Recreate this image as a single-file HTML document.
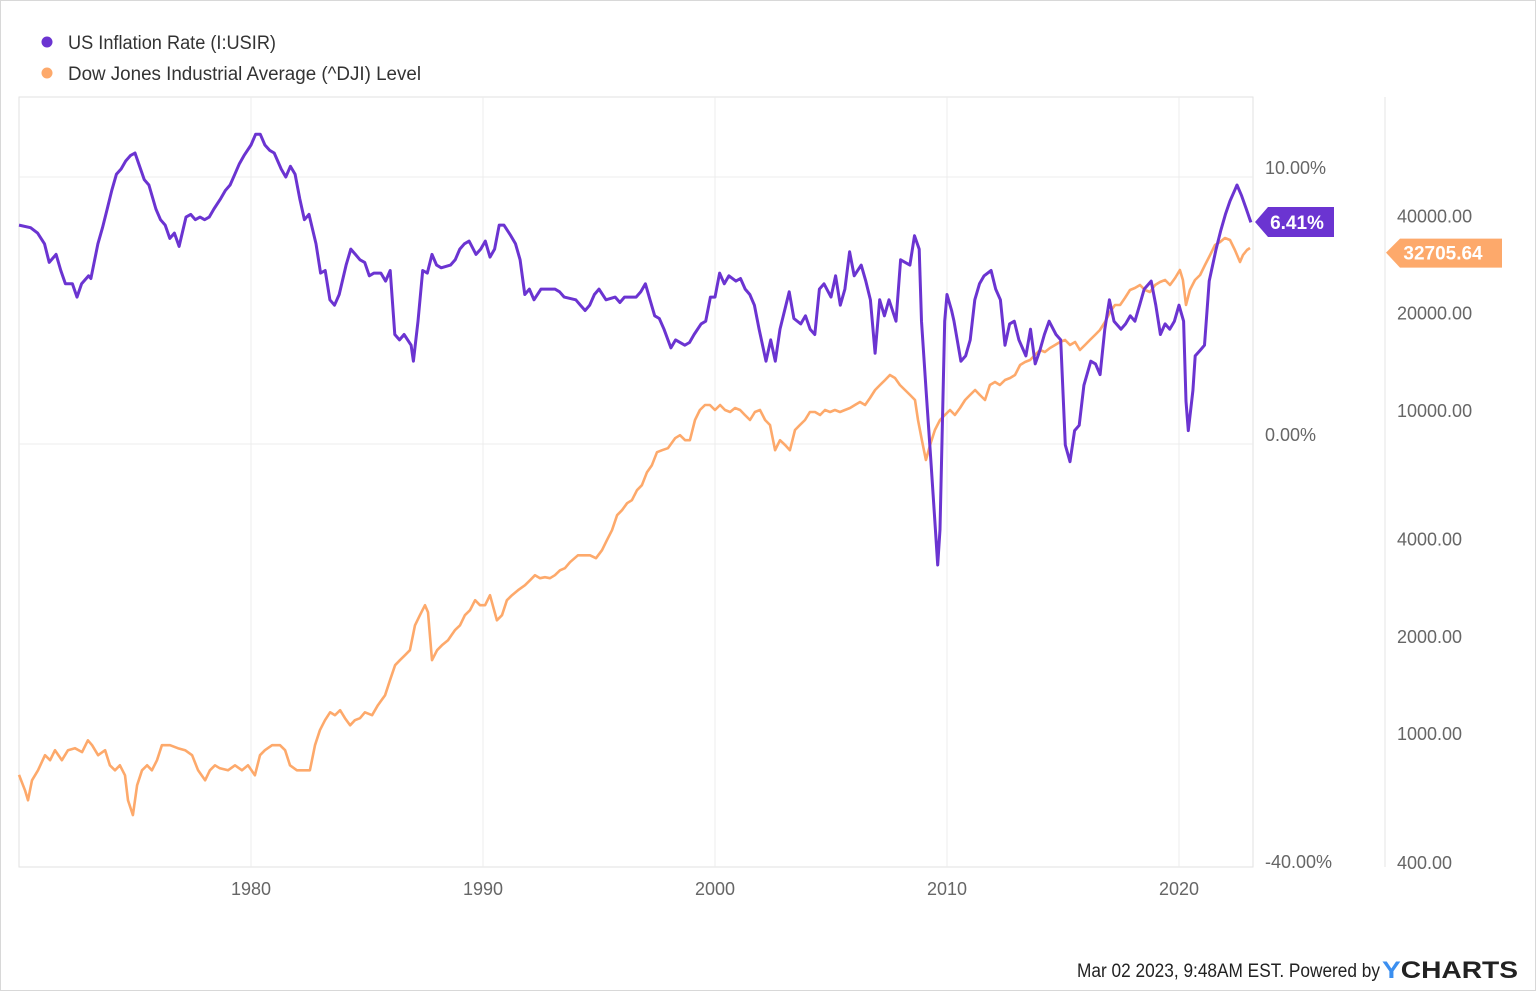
<!DOCTYPE html>
<html><head><meta charset="utf-8"><style>
html,body{margin:0;padding:0;background:#fff;}
body{width:1536px;height:991px;overflow:hidden;position:relative;font-family:"Liberation Sans",sans-serif;}
#frame{position:absolute;left:0;top:0;width:1534px;height:989px;border:1px solid #d8d8d8;}
svg{position:absolute;left:0;top:0;}
.lg{font-size:19px;fill:#333;}
.ax{font-size:18px;fill:#666;}
</style></head><body>
<div id="frame"></div>
<svg id="chart" width="1536" height="991"></svg>
<script>
// ---- data ----
const inflDates=[1970.0,1970.5,1970.8,1971.1,1971.3,1971.6,1971.8,1972.0,1972.3,1972.5,1972.7,1973.0,1973.1,1973.4,1973.6,1973.8,1974.0,1974.2,1974.4,1974.6,1974.8,1975.0,1975.2,1975.4,1975.6,1975.9,1976.1,1976.3,1976.5,1976.7,1976.9,1977.2,1977.4,1977.6,1977.8,1978.0,1978.2,1978.4,1978.7,1978.9,1979.1,1979.3,1979.5,1979.7,1980.0,1980.2,1980.4,1980.6,1980.8,1981.0,1981.3,1981.5,1981.7,1981.9,1982.1,1982.3,1982.5,1982.8,1983.0,1983.2,1983.4,1983.6,1983.8,1984.1,1984.3,1984.5,1984.7,1984.9,1985.1,1985.3,1985.6,1985.8,1986.0,1986.2,1986.4,1986.6,1986.9,1987.0,1987.2,1987.4,1987.6,1987.8,1988.0,1988.2,1988.6,1988.8,1989.0,1989.2,1989.4,1989.7,1989.9,1990.1,1990.3,1990.5,1990.7,1990.9,1991.2,1991.4,1991.6,1991.8,1992.0,1992.2,1992.5,1992.9,1993.1,1993.3,1993.5,1994.0,1994.2,1994.4,1994.6,1994.8,1995.0,1995.3,1995.7,1995.9,1996.1,1996.6,1996.8,1997.0,1997.2,1997.4,1997.6,1997.8,1998.1,1998.3,1998.7,1998.9,1999.1,1999.4,1999.6,1999.8,2000.0,2000.2,2000.4,2000.6,2000.9,2001.1,2001.3,2001.5,2001.7,2001.9,2002.2,2002.4,2002.6,2002.8,2003.0,2003.2,2003.4,2003.7,2003.9,2004.1,2004.3,2004.5,2004.7,2005.0,2005.2,2005.4,2005.6,2005.8,2006.0,2006.3,2006.5,2006.7,2006.9,2007.1,2007.3,2007.5,2007.8,2008.0,2008.2,2008.4,2008.6,2008.8,2008.9,2009.1,2009.3,2009.5,2009.6,2009.7,2009.9,2010.0,2010.2,2010.3,2010.6,2010.8,2011.0,2011.2,2011.4,2011.6,2011.9,2012.1,2012.3,2012.5,2012.7,2012.9,2013.1,2013.4,2013.6,2013.8,2014.0,2014.2,2014.4,2014.7,2014.9,2015.1,2015.3,2015.5,2015.7,2015.9,2016.2,2016.4,2016.6,2016.8,2017.0,2017.2,2017.5,2017.7,2017.9,2018.1,2018.3,2018.5,2018.8,2019.0,2019.2,2019.4,2019.6,2019.8,2020.0,2020.2,2020.3,2020.4,2020.6,2020.7,2020.9,2021.1,2021.3,2021.6,2021.8,2022.0,2022.2,2022.4,2022.5,2022.7,2022.9,2023.1];
const inflValues=[8.2,8.1,7.9,7.5,6.8,7.1,6.5,6.0,6.0,5.5,6.0,6.3,6.2,7.5,8.1,8.8,9.5,10.1,10.3,10.6,10.8,10.9,10.4,9.9,9.7,8.8,8.4,8.2,7.7,7.9,7.4,8.5,8.6,8.4,8.5,8.4,8.5,8.8,9.2,9.5,9.7,10.1,10.5,10.8,11.2,11.6,11.6,11.2,11.0,10.9,10.3,10.0,10.4,10.1,9.2,8.4,8.6,7.5,6.4,6.5,5.4,5.2,5.6,6.7,7.3,7.1,6.9,6.8,6.3,6.4,6.4,6.1,6.5,4.1,3.9,4.1,3.7,3.1,4.6,6.5,6.4,7.1,6.7,6.6,6.7,6.9,7.3,7.5,7.6,7.1,7.3,7.6,7.0,7.3,8.2,8.2,7.8,7.5,6.9,5.6,5.8,5.4,5.8,5.8,5.8,5.7,5.5,5.4,5.2,5.0,5.2,5.6,5.8,5.4,5.5,5.3,5.5,5.5,5.7,6.0,5.4,4.8,4.7,4.3,3.6,3.9,3.7,3.8,4.1,4.5,4.6,5.5,5.5,6.4,6.0,6.3,6.1,6.2,5.8,5.6,5.2,4.3,3.1,3.9,3.1,4.3,5.0,5.7,4.7,4.5,4.8,4.3,4.1,5.8,6.0,5.5,6.3,5.2,5.8,7.2,6.3,6.7,6.1,5.4,3.4,5.4,4.8,5.4,4.6,6.9,6.8,6.7,7.8,7.3,4.6,2.0,-1.5,-8.2,-11.6,-8.2,4.6,5.6,5.0,4.6,3.1,3.3,3.9,5.4,6.0,6.3,6.5,5.8,5.4,3.7,4.5,4.6,3.9,3.3,4.3,3.0,3.5,4.1,4.6,4.1,3.9,-0.1,-1.7,0.5,0.7,2.2,3.1,3.0,2.6,4.3,5.4,4.6,4.3,4.5,4.8,4.6,5.2,5.8,6.1,5.2,4.1,4.5,4.3,4.6,5.2,4.6,1.6,0.5,2.0,3.3,3.5,3.7,6.1,7.3,8.0,8.6,9.1,9.5,9.7,9.3,8.8,8.3];
const djiDates=[1970.00,1970.26,1970.39,1970.56,1970.82,1971.12,1971.34,1971.55,1971.85,1972.11,1972.41,1972.72,1972.97,1973.15,1973.41,1973.71,1973.92,1974.14,1974.35,1974.57,1974.70,1974.91,1975.09,1975.30,1975.52,1975.73,1975.95,1976.16,1976.51,1976.85,1977.16,1977.46,1977.72,1978.02,1978.23,1978.45,1978.66,1979.01,1979.31,1979.61,1979.87,1980.17,1980.39,1980.60,1980.91,1981.25,1981.47,1981.68,1981.98,1982.33,1982.54,1982.76,1982.97,1983.19,1983.41,1983.62,1983.84,1984.05,1984.27,1984.48,1984.70,1984.91,1985.22,1985.47,1985.78,1985.99,1986.21,1986.42,1986.64,1986.85,1987.07,1987.28,1987.50,1987.63,1987.80,1988.02,1988.23,1988.49,1988.79,1989.01,1989.22,1989.44,1989.66,1989.87,1990.09,1990.30,1990.60,1990.82,1991.03,1991.25,1991.51,1991.81,1992.03,1992.24,1992.46,1992.67,1992.89,1993.10,1993.32,1993.53,1993.75,1994.09,1994.40,1994.61,1994.87,1995.13,1995.34,1995.56,1995.78,1995.99,1996.21,1996.42,1996.64,1996.85,1997.07,1997.28,1997.50,1997.72,1997.97,1998.28,1998.49,1998.71,1998.92,1999.14,1999.35,1999.57,1999.78,2000.00,2000.22,2000.43,2000.65,2000.86,2001.08,2001.29,2001.51,2001.72,2001.94,2002.16,2002.37,2002.59,2002.80,2003.02,2003.23,2003.45,2003.66,2003.88,2004.09,2004.31,2004.53,2004.74,2004.96,2005.17,2005.39,2005.60,2005.82,2006.03,2006.25,2006.47,2006.68,2006.90,2007.11,2007.33,2007.54,2007.76,2007.97,2008.19,2008.41,2008.62,2008.75,2008.92,2009.09,2009.27,2009.48,2009.70,2009.91,2010.13,2010.34,2010.56,2010.78,2010.99,2011.21,2011.42,2011.64,2011.85,2012.07,2012.28,2012.50,2012.72,2012.93,2013.15,2013.36,2013.58,2013.79,2014.01,2014.22,2014.44,2014.66,2014.87,2015.09,2015.30,2015.52,2015.73,2015.95,2016.16,2016.38,2016.59,2016.81,2017.03,2017.24,2017.46,2017.67,2017.89,2018.10,2018.32,2018.53,2018.75,2018.97,2019.18,2019.40,2019.61,2019.83,2020.04,2020.17,2020.30,2020.47,2020.69,2020.91,2021.12,2021.34,2021.55,2021.77,2021.98,2022.20,2022.41,2022.63,2022.76,2022.93,2023.06];
const djiValues=[743,666,620,715,768,855,825,886,825,886,899,874,951,918,855,886,796,768,796,741,620,558,690,768,796,768,825,918,918,899,886,855,768,715,768,796,779,768,796,768,796,741,855,886,918,918,886,796,768,768,768,918,1022,1097,1161,1137,1178,1113,1058,1097,1113,1161,1137,1221,1311,1459,1623,1682,1743,1806,2158,2318,2489,2369,1682,1806,1871,1940,2083,2158,2318,2402,2579,2489,2489,2673,2236,2318,2579,2673,2770,2870,2975,3082,3017,3038,3017,3082,3193,3240,3381,3553,3553,3553,3479,3683,3956,4246,4725,4897,5147,5259,5646,5852,6421,6750,7405,7511,7617,8180,8357,8063,8063,9311,10000,10362,10362,10000,10362,10000,9859,10143,10000,9652,9311,9859,10000,9311,8986,7511,8063,7793,7511,8670,8986,9311,9859,9859,9652,10000,9859,10000,9859,10000,10143,10362,10586,10362,10893,11532,11951,12384,12834,12561,11951,11532,11128,10738,9311,8063,7003,7793,8670,9311,9652,10000,9652,10143,10738,11128,11532,11128,10738,11951,12210,11951,12384,12561,12834,13776,14077,14282,14796,15336,15120,15556,15887,16231,16466,15887,16231,15336,15887,16466,17062,17680,18713,20098,21130,21130,22213,23510,23850,24369,23510,23180,24369,24890,25250,24369,25610,27110,25250,21130,23510,25250,26160,28090,30170,32400,33100,34060,33570,31260,28700,30170,31260,31710];
const xTicks=[1980,1990,2000,2010,2020];
const leftTicks=[10,0,-40];
const leftTickLabels=["10.00%","0.00%","-40.00%"];
const rightTicks=[40000,20000,10000,4000,2000,1000,400];
const rightTickLabels=["40000.00","20000.00","10000.00","4000.00","2000.00","1000.00","400.00"];
const lastInfl="6.41%";
const lastDji=32705.64;

// ---- scales ----
const L=19,R=1253,T=97,B=867;
const X=y=>L+(y-1970)*23.2;
const YL=v=>v>=0?444-v*26.7:444-v*10.43;
const YR=v=>410-Math.log2(v/10000)*97.3;
const NS="http://www.w3.org/2000/svg";
const svg=document.getElementById('chart');
function mk(tag,attrs,parent){const e=document.createElementNS(NS,tag);for(const k in attrs)e.setAttribute(k,attrs[k]);(parent||svg).appendChild(e);return e;}

// grid
const grid=mk('g',{});


mk('rect',{x:L,y:T,width:R-L,height:B-T,fill:'none',stroke:'#e2e2e2','stroke-width':1},grid);
mk('line',{x1:1385,y1:T,x2:1385,y2:B,stroke:'#e6e6e6','stroke-width':1},grid);
xTicks.forEach(t=>{mk('line',{x1:X(t),y1:T,x2:X(t),y2:B,stroke:'#ececec'},grid);});
[10,0].forEach(t=>{mk('line',{x1:L,y1:YL(t),x2:R,y2:YL(t),stroke:'#ececec'},grid);});

// x labels
xTicks.forEach(t=>{
  const e=mk('text',{x:X(t),y:895,'text-anchor':'middle',class:'ax'});
  e.textContent=t;
  
  
});
const lyAdj=[-3,-3,7];
leftTicks.forEach((t,i)=>{
  const e=mk('text',{x:1265,y:YL(t)+lyAdj[i],class:'ax'});
  e.textContent=leftTickLabels[i];
  
  
});
rightTicks.forEach((t,i)=>{
  const e=mk('text',{x:1397,y:YR(t)+7,class:'ax'});
  e.textContent=rightTickLabels[i];
  
  
});

// series
function pathFrom(d,v,sc){return d.map((t,i)=>(i?'L':'M')+X(t).toFixed(1)+','+sc(v[i]).toFixed(1)).join('');}
const dj=mk('path',{d:pathFrom(djiDates,djiValues,YR),fill:'none',stroke:'#fda96b','stroke-width':2.6,'stroke-linejoin':'round'});


const inf=mk('path',{d:pathFrom(inflDates,inflValues,YL),fill:'none',stroke:'#6b34d1','stroke-width':3,'stroke-linejoin':'round'});



// badges
const yi=222;
const b1=mk('g',{});


mk('path',{d:`M1255,${yi} L1268,${yi-15} L1334,${yi-15} L1334,${yi+15} L1268,${yi+15} Z`,fill:'#6b34d1'},b1);
const t1=mk('text',{x:1297,y:yi+7,'text-anchor':'middle','font-size':19,'font-weight':'bold',fill:'#fff'},b1);t1.textContent=lastInfl;
const yd=YR(lastDji)+9;
const b2=mk('g',{});


mk('path',{d:`M1386,${yd} L1400,${yd-14} L1502,${yd-14} L1502,${yd+15} L1400,${yd+15} Z`,fill:'#fda96b'},b2);
const t2=mk('text',{x:1443,y:yd+7,'text-anchor':'middle','font-size':19,'font-weight':'bold',fill:'#fff'},b2);t2.textContent=lastDji.toFixed(2);

// legend
const lg=mk('g',{});


[['US Inflation Rate (I:USIR)','#6b34d1',42,208],['Dow Jones Industrial Average (^DJI) Level','#fda96b',73,353]].forEach(([s,c,y,w])=>{
  const g=mk('g',{},lg);
  
  
  mk('circle',{cx:47,cy:y,r:5.5,fill:c},g);
  const t=mk('text',{x:68,y:y+7,class:'lg',textLength:w,lengthAdjust:'spacingAndGlyphs'},g);t.textContent=s;
});

// footer
const ft=mk('text',{x:1077,y:977,'font-size':19,fill:'#222',textLength:303,lengthAdjust:'spacingAndGlyphs'});
ft.textContent='Mar 02 2023, 9:48AM EST. Powered by';


const lo=mk('text',{x:1382,y:978,'font-size':24,'font-weight':'bold',fill:'#222',textLength:136,lengthAdjust:'spacingAndGlyphs'});


const ly=mk('tspan',{fill:'#3b8ff0'},lo);ly.textContent='Y';
const lr=mk('tspan',{},lo);lr.textContent='CHARTS';
</script>
</body></html>
